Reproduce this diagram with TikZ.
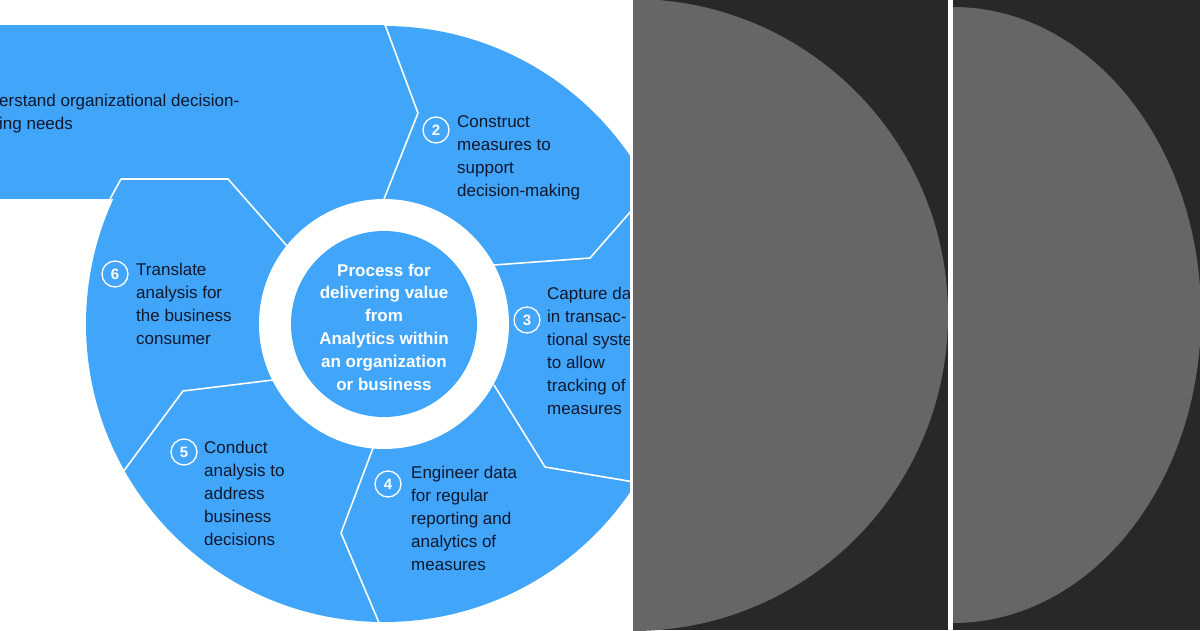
\documentclass[tikz,border=0pt]{standalone}
\usepackage{fontspec}
\setmainfont{Liberation Sans}
\definecolor{blu}{HTML}{41A5F9}
\definecolor{ink}{HTML}{10182E}
\definecolor{dark}{HTML}{282828}
\definecolor{mid}{HTML}{666666}
\begin{document}
\begin{tikzpicture}[x=1pt,y=-1pt,
  lbl/.style={anchor=north west,align=left,text=ink,font=\fontsize{17}{23}\selectfont,inner sep=0pt},
  num/.style={circle,draw=white,line width=1.3pt,minimum size=26pt,inner sep=0pt,text=white,font=\bfseries\fontsize{15}{15}\selectfont},
  sep/.style={white,line width=1.6pt,line join=round},
  ctr/.style={align=center,text=white,font=\bfseries\fontsize{17}{22.8}\selectfont}]
\useasboundingbox (0,0) rectangle (1200,630);
\fill[white] (0,0) rectangle (1200,630);
% blue body
\fill[blu] (0,25) rectangle (384,199);
\fill[blu] (384,324) circle[radius=298];
\fill[white] (384,324) circle[radius=125];
\fill[blu] (384,324) circle[radius=93];
% separators
\draw[sep] (384,22) -- (418,113) -- (384,199);
\draw[sep] (632,210) -- (590,258) -- (494,265);
\draw[sep] (494,385) -- (545,467) -- (634,482);
\draw[sep] (373,448) -- (341,533) -- (380,625);
\draw[sep] (273,380) -- (183,391) -- (120,476);
\draw[sep] (110,199) -- (121,179) -- (228,179) -- (287,246);
% labels
\node[lbl] (t1) at (-1,94) {erstand organizational decision-\\ing needs};
\node[num] (n2) at (436,130) {2};
\node[lbl] (t2) at (457,115) {Construct\\measures to\\support\\decision-making};
\node[num] (n3) at (527,320) {3};
\node[lbl] (t3) at (547,287) {Capture data\\in transac-\\tional systems\\to allow\\tracking of\\measures};
\node[num] (n4) at (388,484) {4};
\node[lbl] (t4) at (411,466) {Engineer data\\for regular\\reporting and\\analytics of\\measures};
\node[num] (n5) at (184,452) {5};
\node[lbl] (t5) at (204,441) {Conduct\\analysis to\\address\\business\\decisions};
\node[num] (n6) at (115,274) {6};
\node[lbl] (t6) at (136,263) {Translate\\analysis for\\the business\\consumer};
\node[ctr] (c) at (384,327) {Process for\\delivering value\\from\\Analytics within\\an organization\\or business};
% right panels
\fill[white] (630,0) rectangle (1200,630);
\fill[dark] (633,0) rectangle (948,630);
\fill[dark] (953,0) rectangle (1200,630);
\begin{scope}
\clip (633,0) rectangle (948,630);
\fill[mid] (633,315) ellipse[x radius=315,y radius=316];
\end{scope}
\begin{scope}
\clip (953,0) rectangle (1200,630);
\fill[mid] (953,315) ellipse[x radius=248,y radius=308];
\end{scope}
\end{tikzpicture}
\end{document}
